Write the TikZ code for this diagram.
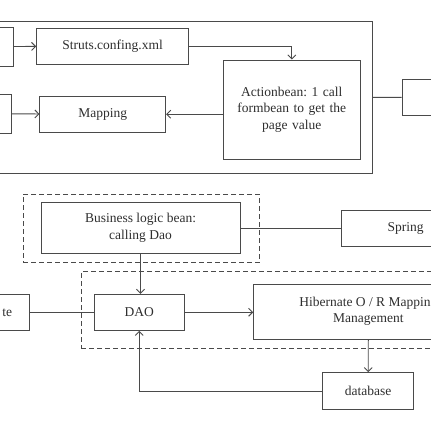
\documentclass[tikz,border=0pt]{standalone}
\usepackage{fontspec}
\setmainfont{Liberation Serif}
\usepackage{tikz}
\usepackage{xcolor}
\usetikzlibrary{arrows.meta}
\definecolor{linegray}{HTML}{4A4A4A}
\definecolor{textgray}{HTML}{2E2E2E}

\begin{document}
\frenchspacing
\begin{tikzpicture}[x=1pt, y=-1pt]
            % Define styles
            \tikzstyle{block} = [rectangle, draw=linegray, line width=1pt, text=textgray, font=\fontsize{13.5}{16.5}\selectfont, align=center, inner sep=0pt]
            \tikzstyle{group} = [rectangle, draw=linegray, line width=1pt, inner sep=0pt]
            \tikzstyle{dashgroup} = [rectangle, draw=linegray, line width=0.9pt, dash pattern=on 5pt off 3pt, inner sep=0pt]
            \tikzstyle{arrow} = [draw=linegray, line width=0.9pt, -{Straight Barb[length=4pt, width=8pt]}]
            \tikzstyle{link} = [draw=linegray, line width=0.9pt]

            \useasboundingbox (0,0) rectangle (431,431);
            \clip (0,0) rectangle (431,431);

            % Upper part - web layer
            \node (frame) [group, minimum width=382.3pt, minimum height=151.3pt] at (181.15,97.35) {};
            \node (lefttop) [block, minimum width=33pt, minimum height=39pt] at (-3.5,46.5) {};
            \node (struts) [block, minimum width=151.6pt, minimum height=36pt] at (112.5,46.3) {Struts.confing.xml};
            \node (leftmid) [block, minimum width=31pt, minimum height=39pt] at (-4.5,113.8) {};
            \node (mapping) [block, minimum width=125.7pt, minimum height=36.3pt] at (102.8,114.2) {Mapping};
            \node (action) [block, minimum width=137pt, minimum height=99.3pt, text width=124pt] at (291.8,109.7) {Actionbean: 1 call\\formbean to get the\\page value};
            \node (rightbox) [block, minimum width=58pt, minimum height=36pt] at (431,97.3) {};

            % Lower part - business and persistence layers
            \node (dashbiz) [dashgroup, minimum width=236pt, minimum height=68.7pt] at (141.3,228.35) {};
            \node (dashdao) [dashgroup, minimum width=389pt, minimum height=76.6pt] at (275.5,310) {};
            \node (business) [block, minimum width=199pt, minimum height=50.6pt] at (140.5,228) {Business logic bean:\\calling Dao};
            \node (spring) [block, minimum width=129pt, minimum height=36pt] at (405.5,228) {Spring};
            \node (tebox) [block, minimum width=59.3pt, minimum height=36pt, text width=24.7pt, align=right] at (-0.35,312.3) {te};
            \node (dao) [block, minimum width=90pt, minimum height=36pt] at (139.3,312.3) {DAO};
            \node (hib) [block, minimum width=229.2pt, minimum height=55pt] at (368.3,311.5) {Hibernate O / R Mapping\\Management};
            \node (database) [block, minimum width=91pt, minimum height=36.6pt] at (368.2,391) {database};

            % Connectors
            \draw [arrow] (lefttop) -- (struts);
            \draw [arrow] (struts.east) -| (action.north);
            \draw [arrow] (leftmid) -- (mapping);
            \draw [arrow] (mapping.east -| action.west) -- (mapping.east);
            \draw [link] (frame.east) -- (rightbox.west);
            \draw [link] (business.east) -- (spring.west);
            \draw [arrow] (business.south) -- (business.south |- dao.north);
            \draw [link] (tebox) -- (dao);
            \draw [arrow] (dao.east) -- (dao.east -| hib.west);
            \draw [arrow] (hib.south) -- (database.north);
            \draw [arrow] (database.west) -| (dao.south);
        \end{tikzpicture}
\end{document}
